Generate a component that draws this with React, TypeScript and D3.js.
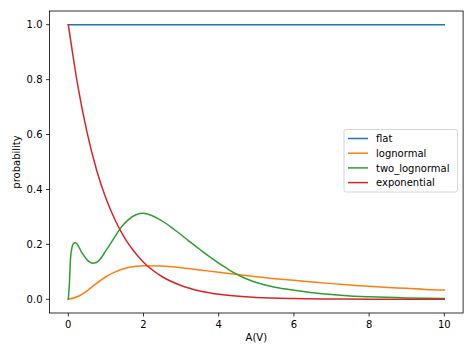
import React from "react";
import * as d3 from "d3";

const W = 474;
const H = 355;

const flatX = [0, 10];
const flatY = [1, 1];

const lognormalX = [0, 0.25, 0.5, 0.75, 1.0, 1.25, 1.5, 1.75, 2.0, 2.5, 3.0, 3.5, 4.0, 4.5, 5.0, 5.5, 6.0, 6.5, 7.0, 7.5, 8.0, 8.5, 9.0, 9.5, 10];
const lognormalY = [0, 0.01, 0.031, 0.058, 0.082, 0.1, 0.112, 0.119, 0.122, 0.121, 0.115, 0.107, 0.098, 0.09, 0.082, 0.075, 0.069, 0.063, 0.057, 0.052, 0.047, 0.043, 0.04, 0.036, 0.034];

const twoLogX = [0, 0.03, 0.06, 0.1, 0.14, 0.18, 0.24, 0.3, 0.38, 0.45, 0.55, 0.66, 0.8, 1.0, 1.2, 1.4, 1.6, 1.8, 2.0, 2.2, 2.4, 2.6, 2.8, 3.0, 3.2, 3.4, 3.6, 3.8, 4.0, 4.2, 4.4, 4.6, 4.8, 5.0, 5.5, 6.0, 6.5, 7.0, 7.5, 8.0, 9.0, 10];
const twoLogY = [0, 0.06, 0.15, 0.19, 0.203, 0.206, 0.2, 0.185, 0.166, 0.152, 0.137, 0.131, 0.139, 0.177, 0.219, 0.261, 0.29, 0.308, 0.313, 0.306, 0.293, 0.276, 0.256, 0.235, 0.213, 0.192, 0.171, 0.151, 0.132, 0.114, 0.097, 0.083, 0.071, 0.061, 0.044, 0.033, 0.024, 0.017, 0.012, 0.009, 0.005, 0.003];

const expX = [0, 0.25, 0.5, 0.75, 1.0, 1.25, 1.5, 1.75, 2.0, 2.5, 3.0, 3.5, 4.0, 5.0, 6.0, 7.0, 8.0, 10];
const expY = [1, 0.78, 0.607, 0.472, 0.368, 0.287, 0.223, 0.174, 0.135, 0.082, 0.05, 0.03, 0.018, 0.0067, 0.0025, 0.001, 0.0003, 0];

const seriesNames = ["flat", "lognormal", "two_lognormal", "exponential"];
const seriesColors = ["#1f77b4", "#ff7f0e", "#2ca02c", "#d62728"];
const seriesX = [flatX, lognormalX, twoLogX, expX];
const seriesY = [flatY, lognormalY, twoLogY, expY];

const xTicks = [0, 2, 4, 6, 8, 10];
const yTicks = [0, 0.2, 0.4, 0.6, 0.8, 1.0];

const font = "DejaVu Sans, sans-serif";

export default function App() {
  const left = 49.5, right = 463.1, top = 11.0, bottom = 313.0;
  const x = d3.scaleLinear().domain([-0.5, 10.5]).range([left, right]);
  const y = d3.scaleLinear().domain([-0.05, 1.05]).range([bottom, top]);
  const line = d3
    .line<[number, number]>()
    .x((d) => x(d[0]))
    .y((d) => y(d[1]))
    .curve(d3.curveMonotoneX);

  const legLeft = 344, legTop = 129.5, legW = 113.5, legH = 62.5;
  const rowH = 14.7;

  return (
    <svg
      width={W}
      height={H}
      style={{ position: "absolute", left: 0, top: 0, background: "#fff" }}
      fontFamily={font}
    >
      <rect x={0} y={0} width={W} height={H} fill="#fff" />
      {seriesX.map((xs, i) => (
        <path
          key={seriesNames[i]}
          d={line(xs.map((v, j) => [v, seriesY[i][j]] as [number, number])) || ""}
          fill="none"
          stroke={seriesColors[i]}
          strokeWidth={1.5}
          strokeLinejoin="round"
          strokeLinecap="square"
        />
      ))}
      <rect
        x={left}
        y={top}
        width={right - left}
        height={bottom - top}
        fill="none"
        stroke="#000"
        strokeWidth={0.8}
      />
      {xTicks.map((t) => (
        <g key={"x" + t}>
          <line x1={x(t)} x2={x(t)} y1={bottom} y2={bottom + 3.5} stroke="#000" strokeWidth={0.8} />
          <text x={x(t)} y={bottom + 14.5} fontSize={10} textAnchor="middle" fill="#000">
            {t}
          </text>
        </g>
      ))}
      {yTicks.map((t) => (
        <g key={"y" + t}>
          <line x1={left - 3.5} x2={left} y1={y(t)} y2={y(t)} stroke="#000" strokeWidth={0.8} />
          <text x={left - 7} y={y(t) + 3.6} fontSize={10} textAnchor="end" fill="#000">
            {t.toFixed(1)}
          </text>
        </g>
      ))}
      <text x={(left + right) / 2} y={341} fontSize={10} textAnchor="middle" fill="#000">
        A(V)
      </text>
      <text
        transform={`translate(19.5, ${(top + bottom) / 2}) rotate(-90)`}
        fontSize={10}
        textAnchor="middle"
        fill="#000"
      >
        probability
      </text>
      <rect
        x={legLeft}
        y={legTop}
        width={legW}
        height={legH}
        rx={2}
        fill="#fff"
        fillOpacity={0.8}
        stroke="#cccccc"
        strokeWidth={0.8}
      />
      {seriesNames.map((n, i) => {
        const cy = legTop + 9 + i * rowH;
        return (
          <g key={"leg" + n}>
            <line x1={legLeft + 4} x2={legLeft + 24} y1={cy} y2={cy} stroke={seriesColors[i]} strokeWidth={1.5} />
            <text x={legLeft + 32} y={cy + 3.6} fontSize={10} fill="#000">
              {n}
            </text>
          </g>
        );
      })}
    </svg>
  );
}
